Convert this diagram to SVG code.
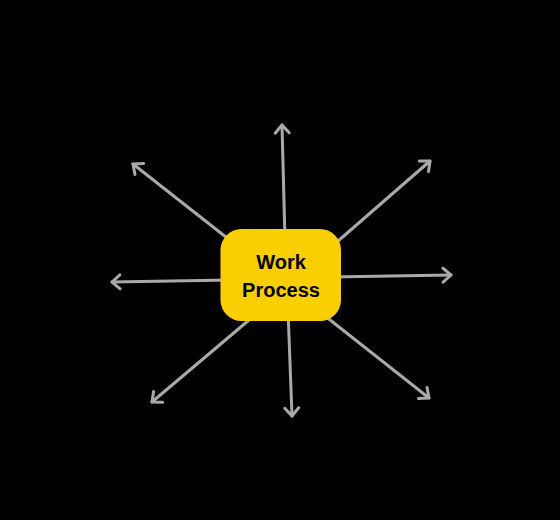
<svg xmlns="http://www.w3.org/2000/svg" width="560" height="520" viewBox="0 0 560 520">
<defs>
<style>
.bg{fill:#000000}
.conn{stroke:#a9a9a9;stroke-width:3;stroke-linecap:round;fill:none;marker-end:url(#arrow)}
.box{fill:#f9cf02}
.lbl{font-family:"Liberation Sans",Arial,sans-serif;font-weight:bold;font-size:20px;fill:#000000;text-anchor:middle}
</style>
<marker id="arrow" viewBox="-12 -10 14 20" refX="0" refY="0" markerWidth="14" markerHeight="20" markerUnits="userSpaceOnUse" orient="auto" overflow="visible">
<path d="M -8 -7 L 0 0 L -8 7" fill="none" stroke="#a9a9a9" stroke-width="3" stroke-linecap="round" stroke-linejoin="round"/>
</marker>
</defs>
<rect class="bg" x="0" y="0" width="560" height="520"/>
<g id="connectors">
<line class="conn" x1="285" y1="240" x2="282" y2="125"/>
<line class="conn" x1="236" y1="245" x2="133" y2="164"/>
<line class="conn" x1="230" y1="280" x2="112" y2="282"/>
<line class="conn" x1="330" y1="248" x2="430" y2="161"/>
<line class="conn" x1="330" y1="277" x2="451" y2="275"/>
<line class="conn" x1="255" y1="315" x2="152" y2="402"/>
<line class="conn" x1="288" y1="310" x2="292" y2="416"/>
<line class="conn" x1="320" y1="312" x2="429" y2="398"/>
</g>
<g id="node-work-process">
<rect class="box" x="220.5" y="229" width="120.5" height="92" rx="21" ry="21"/>
<text class="lbl" x="281" y="269">Work</text>
<text class="lbl" x="281" y="297">Process</text>
</g>
</svg>
